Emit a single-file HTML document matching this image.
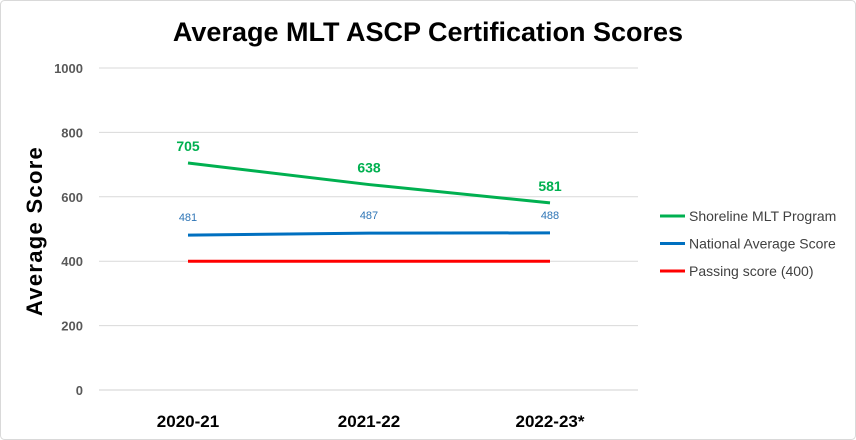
<!DOCTYPE html>
<html><head><meta charset="utf-8"><style>
body{margin:0;background:#fff;}
svg{display:block;font-family:"Liberation Sans",Arial,sans-serif;}
</style></head><body>
<svg id="chart" width="856" height="440" viewBox="0 0 856 440">
<rect x="0.5" y="0.5" width="855" height="439" rx="4" fill="#fff" stroke="#d9d9d9"/>
<text x="428" y="41" text-anchor="middle" font-size="27" font-weight="bold" fill="#000">Average MLT ASCP Certification Scores</text>
<text transform="translate(42,231) rotate(-90)" text-anchor="middle" font-size="22" font-weight="bold" letter-spacing="1.3" fill="#000">Average Score</text>
<g id="grid"></g><g id="marks"></g><g id="legend"></g>
</svg>
<script>
const categories=["2020-21","2021-22","2022-23*"];
const shoreline=[705,638,581];
const national=[481,487,488];
const passing=[400,400,400];
const yTicks=[0,200,400,600,800,1000];
const seriesNames=["Shoreline MLT Program","National Average Score","Passing score (400)"];
const NS="http://www.w3.org/2000/svg";
function y(v){return 390-(v/1000)*322;}
function x(i){return 188+i*181;}
function mk(tag,attrs,parent,txt){const e=document.createElementNS(NS,tag);for(const k in attrs)e.setAttribute(k,attrs[k]);if(txt!==undefined)e.textContent=txt;parent.appendChild(e);return e;}
const grid=document.getElementById('grid'),marks=document.getElementById('marks'),leg=document.getElementById('legend');
yTicks.forEach(t=>{
 const l=mk('line',{x1:99,x2:638,y1:y(t),y2:y(t),stroke:t===0?'#d0d0d0':'#d9d9d9','stroke-width':1},grid);
 
 
 const tx=mk('text',{x:83,y:y(t)+5,'text-anchor':'end','font-size':13,'font-weight':'bold',fill:'#595959'},grid,t);
 
 
});
categories.forEach((c,i)=>{
 const tx=mk('text',{x:x(i),y:427,'text-anchor':'middle','font-size':17,'font-weight':'bold',fill:'#000'},grid,c);
 
 
});
const series=[[shoreline,'#00b050'],[national,'#0070c0'],[passing,'#ff0000']];
series.forEach((s,si)=>{
 const pts=s[0].map((v,i)=>x(i)+','+y(v)).join(' ');
 const p=mk('polyline',{points:pts,fill:'none',stroke:s[1],'stroke-width':3},marks);
 
 
 if(si<2){s[0].forEach((v,i)=>{
  const t=mk('text',{x:x(i),y:y(v)-(si===0?12:14),'text-anchor':'middle','font-size':si===0?14:11,'font-weight':si===0?'bold':'normal',fill:si===0?'#00b050':'#2e75b6'},marks,v);
  
  
 });}
 const ly=216+si*27.5;
 const ll=mk('line',{x1:660,x2:685,y1:ly,y2:ly,stroke:s[1],'stroke-width':3},leg);
 
 
 const lt=mk('text',{x:689,y:ly+5,'font-size':14,fill:'#404040'},leg,seriesNames[si]);
 
 
});
</script>
</body></html>
